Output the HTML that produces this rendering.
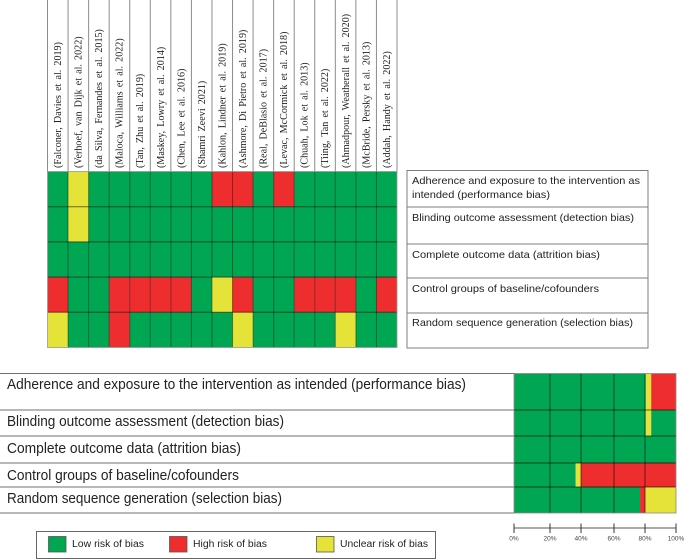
<!DOCTYPE html>
<html lang="en">
<head>
<meta charset="utf-8">
<title>Risk of bias summary</title>
<style>
html,body{margin:0;padding:0;background:#fff;width:685px;height:560px;overflow:hidden}
svg{display:block;filter:blur(0.35px)}
.tbl{font-family:"Liberation Sans",sans-serif;fill:#222}
.study{font-family:"Liberation Serif",serif;font-size:10.1px;fill:#222;word-spacing:1.6px}
.tick{font-family:"Liberation Sans",sans-serif;font-size:6.5px;fill:#444;text-anchor:middle}
</style>
</head>
<body>
<svg id="chart" xmlns="http://www.w3.org/2000/svg" width="685" height="560" viewBox="0 0 685 560">
  <rect width="685" height="560" fill="#fff"/>
  <g id="study-headers"></g>
  <g id="matrix"></g>

  <g fill="none" stroke="#7c7c7c" stroke-width="1">
    <rect x="407" y="170.5" width="241" height="177.5"/>
    <line x1="407" x2="648" y1="207" y2="207"/>
    <line x1="407" x2="648" y1="244" y2="244"/>
    <line x1="407" x2="648" y1="278" y2="278"/>
    <line x1="407" x2="648" y1="313" y2="313"/>
  </g>
  <g class="tbl" font-size="10.5">
    <text x="412" y="184" textLength="228" lengthAdjust="spacingAndGlyphs">Adherence and exposure to the intervention as</text>
    <text x="412" y="198" textLength="138" lengthAdjust="spacingAndGlyphs">intended (performance bias)</text>
    <text x="412" y="221" textLength="222" lengthAdjust="spacingAndGlyphs">Blinding outcome assessment (detection bias)</text>
    <text x="412" y="258" textLength="188" lengthAdjust="spacingAndGlyphs">Complete outcome data (attrition bias)</text>
    <text x="412" y="292" textLength="187" lengthAdjust="spacingAndGlyphs">Control groups of baseline/cofounders</text>
    <text x="412" y="326" textLength="221" lengthAdjust="spacingAndGlyphs">Random sequence generation (selection bias)</text>
  </g>

  <g fill="none" stroke="#707070" stroke-width="1">
    <line x1="0" x2="514" y1="373.5" y2="373.5"/>
    <line x1="0" x2="514" y1="410" y2="410"/>
    <line x1="0" x2="514" y1="436" y2="436"/>
    <line x1="0" x2="514" y1="463" y2="463"/>
    <line x1="0" x2="514" y1="487" y2="487"/>
    <line x1="0" x2="514" y1="513" y2="513"/>
  </g>
  <g class="tbl" font-size="14.5">
    <text x="7" y="389" textLength="459" lengthAdjust="spacingAndGlyphs">Adherence and exposure to the intervention as intended (performance bias)</text>
    <text x="7" y="426" textLength="277" lengthAdjust="spacingAndGlyphs">Blinding outcome assessment (detection bias)</text>
    <text x="7" y="453" textLength="234" lengthAdjust="spacingAndGlyphs">Complete outcome data (attrition bias)</text>
    <text x="7" y="480" textLength="232" lengthAdjust="spacingAndGlyphs">Control groups of baseline/cofounders</text>
    <text x="7" y="503" textLength="275" lengthAdjust="spacingAndGlyphs">Random sequence generation (selection bias)</text>
  </g>

  <g id="stacked"></g>
  <g id="axis"></g>

  <g>
    <rect x="36.5" y="531.5" width="399" height="27" fill="#fff" stroke="#666" stroke-width="1"/>
    <rect x="48.5" y="536.5" width="17.5" height="15.5" fill="#00a651" stroke="#555" stroke-width="0.8"/>
    <text class="tbl" x="72" y="547" font-size="10" textLength="72" lengthAdjust="spacingAndGlyphs">Low risk of bias</text>
    <rect x="169.5" y="536.5" width="17.5" height="15.5" fill="#ee2d2f" stroke="#555" stroke-width="0.8"/>
    <text class="tbl" x="193" y="547" font-size="10" textLength="74" lengthAdjust="spacingAndGlyphs">High risk of bias</text>
    <rect x="316.5" y="536.5" width="17.5" height="15.5" fill="#e5e337" stroke="#555" stroke-width="0.8"/>
    <text class="tbl" x="340" y="547" font-size="10" textLength="88" lengthAdjust="spacingAndGlyphs">Unclear risk of bias</text>
  </g>
</svg>

<script>
// ---- data ----
const studies = ["(Falconer, Davies et al. 2019)","(Verhoef, van Dijk et al. 2022)","(da Silva, Fernandes et al. 2015)","(Maloca, Williams et al. 2022)","(Tan, Zhu et al. 2019)","(Maskey, Lowry et al. 2014)","(Chen, Lee et al. 2016)","(Shamri Zeevi 2021)","(Kahlon, Lindner et al. 2019)","(Ashmore, Di Pietro et al. 2019)","(Real, DeBlasio et al. 2017)","(Levac, McCormick et al. 2018)","(Chuah, Lok et al. 2013)","(Tiing, Tan et al. 2022)","(Ahmadpour, Weatherall et al. 2020)","(McBride, Persky et al. 2013)","(Addah, Handy et al. 2022)"];
const matrixPerformance = ["L","U","L","L","L","L","L","L","H","H","L","H","L","L","L","L","L"];
const matrixDetection   = ["L","U","L","L","L","L","L","L","L","L","L","L","L","L","L","L","L"];
const matrixAttrition   = ["L","L","L","L","L","L","L","L","L","L","L","L","L","L","L","L","L"];
const matrixControl     = ["H","L","L","H","H","H","H","L","U","H","L","L","H","H","H","L","H"];
const matrixSelection   = ["U","L","L","H","L","L","L","L","L","U","L","L","L","L","U","L","L"];
const matrixRows = [matrixPerformance, matrixDetection, matrixAttrition, matrixControl, matrixSelection];

const stackPerformance = [["L",80.5],["U",3.5],["H",16]];
const stackDetection   = [["L",80.5],["U",3.5],["L",16]];
const stackAttrition   = [["L",100]];
const stackControl     = [["L",36.6],["U",3.4],["H",60]];
const stackSelection   = [["L",76.8],["H",3.4],["U",19.8]];
const stackRows = [stackPerformance, stackDetection, stackAttrition, stackControl, stackSelection];

const tickValues = [0,20,40,60,80,100];
const tickLabels = ["0%","20%","40%","60%","80%","100%"];

// ---- layout ----
const colours = {L:"#00a651", H:"#ee2d2f", U:"#e5e337"};
const NS = "http://www.w3.org/2000/svg";
const layout = {
  mx0:47.5, mx1:397, mTop:171.5, mBottom:347.5,
  axisStops:[514,550,581,614,645,676],
  stackEdges:[373.5,410,436,463,487,513],
  axisY:528
};
function mk(parent, tag, attrs){
  const el = document.createElementNS(NS, tag);
  for (const k in attrs) el.setAttribute(k, attrs[k]);
  parent.appendChild(el);
  return el;
}
function colX(i){ return layout.mx0 + i*(layout.mx1-layout.mx0)/studies.length; }
function rowY(i){ return layout.mTop + i*(layout.mBottom-layout.mTop)/matrixRows.length; }
function pctX(v){
  const s = layout.axisStops, seg = Math.max(0, Math.min(s.length-2, Math.floor(v/20)));
  return s[seg] + (v-seg*20)/20*(s[seg+1]-s[seg]);
}

// headers
const hdr = document.getElementById('study-headers');
studies.forEach(function(name,i){
  const t = mk(hdr,'text',{class:'study',transform:'translate('+(colX(i+0.5)+3.2)+',168) rotate(-90)'});
  
  
  t.textContent = name;
});
for (let i=0;i<=studies.length;i++){
  const l = mk(hdr,'line',{x1:colX(i),x2:colX(i),y1:0,y2:layout.mTop,stroke:'#8c8c8c','stroke-width':1});
  
  
}

// matrix cells
const mat = document.getElementById('matrix');
matrixRows.forEach(function(row,r){
  row.forEach(function(v,c){
    const cell = mk(mat,'rect',{x:colX(c),y:rowY(r),width:colX(c+1)-colX(c),height:rowY(r+1)-rowY(r),fill:colours[v]});
    
    
  });
});
for (let i=1;i<studies.length;i++){
  const l = mk(mat,'line',{x1:colX(i),x2:colX(i),y1:layout.mTop,y2:layout.mBottom,stroke:'#000','stroke-opacity':0.4,'stroke-width':1});
  
  
}
for (let i=1;i<matrixRows.length;i++){
  const l = mk(mat,'line',{x1:layout.mx0,x2:layout.mx1,y1:rowY(i),y2:rowY(i),stroke:'#000','stroke-opacity':0.55,'stroke-width':1});
  
  
}
const mb = mk(mat,'rect',{x:layout.mx0,y:layout.mTop,width:layout.mx1-layout.mx0,height:layout.mBottom-layout.mTop,fill:'none',stroke:'#999','stroke-width':0.8});



// stacked bars
const st = document.getElementById('stacked');
stackRows.forEach(function(row,r){
  let acc = 0;
  row.forEach(function(seg){
    const a = pctX(acc), b = pctX(acc+seg[1]);
    const bar = mk(st,'rect',{x:a,y:layout.stackEdges[r],width:b-a,height:layout.stackEdges[r+1]-layout.stackEdges[r],fill:colours[seg[0]]});
    
    
    acc += seg[1];
  });
});
tickValues.slice(1,-1).forEach(function(v){
  const l = mk(st,'line',{x1:pctX(v),x2:pctX(v),y1:layout.stackEdges[0],y2:layout.stackEdges[5],stroke:'#000','stroke-opacity':0.55,'stroke-width':1});
  
  
});
layout.stackEdges.slice(1,-1).forEach(function(y){
  const l = mk(st,'line',{x1:pctX(0),x2:pctX(100),y1:y,y2:y,stroke:'#000','stroke-opacity':0.6,'stroke-width':1});
  
  
});
const sb = mk(st,'rect',{x:pctX(0),y:layout.stackEdges[0],width:pctX(100)-pctX(0),height:layout.stackEdges[5]-layout.stackEdges[0],fill:'none',stroke:'#8a8a8a','stroke-width':0.8});



// axis
const ax = document.getElementById('axis');
const base = mk(ax,'line',{x1:pctX(0),x2:pctX(100),y1:layout.axisY,y2:layout.axisY,stroke:'#555','stroke-width':1});


tickValues.forEach(function(v,i){
  const x = pctX(v);
  const t = mk(ax,'line',{x1:x,x2:x,y1:layout.axisY-4.5,y2:layout.axisY+5,stroke:'#333','stroke-width':1});
  
  
  const lab = mk(ax,'text',{class:'tick',x:x,y:540.5});
  
  
  lab.textContent = tickLabels[i];
});
</script>
</body>
</html>
